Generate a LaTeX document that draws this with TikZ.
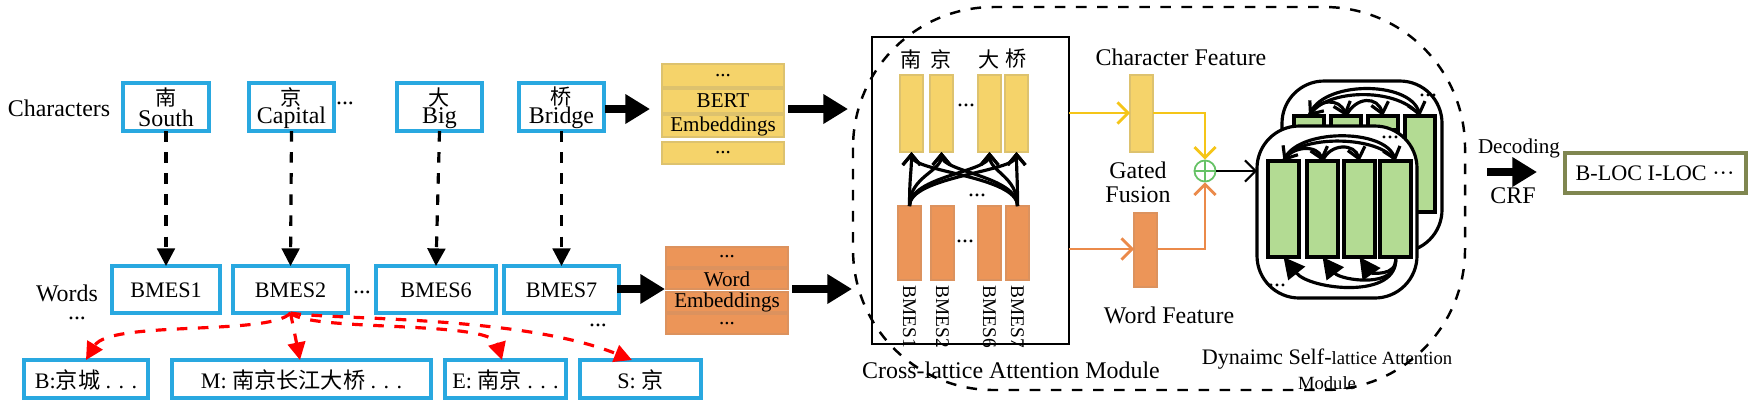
\documentclass[tikz,border=0pt]{standalone}
\usepackage{fontspec}
\setmainfont{Liberation Serif}
\newfontfamily\cjk{Noto Sans CJK SC}
\usetikzlibrary{arrows.meta,positioning,calc}
\newcommand\mydots{...}
\definecolor{cyanb}{HTML}{29A8E0}
\definecolor{yel}{HTML}{F5D36A}
\definecolor{ora}{HTML}{EC9558}
\definecolor{grn}{HTML}{B3DB93}
\definecolor{oli}{HTML}{7F8650}
\definecolor{yline}{HTML}{F5C518}
\definecolor{oline}{HTML}{EB8A4A}
\begin{document}
\begin{tikzpicture}[x=0.01cm,y=-0.01cm,
  txt/.style={font=\fontsize{6.8}{8}\selectfont,inner sep=0pt},
  stxt/.style={font=\fontsize{5.5}{6.5}\selectfont,inner sep=0pt},
  bx/.style={draw=cyanb,line width=1.1pt},
  ybar/.style={fill=yel,draw=yel!80!gray,line width=0.4pt},
  obar/.style={fill=ora,draw=ora!85!gray,line width=0.4pt},
  gbar/.style={fill=grn,draw=black,line width=0.9pt},
  dn/.style={dashed,line width=0.9pt,-{Triangle[length=5pt,width=5pt]}},
  rd/.style={red,dashed,line width=0.9pt,-{Triangle[length=5pt,width=5pt]}},
  big/.style={line width=2pt,-{Triangle[length=7pt,width=8pt]}},
  att/.style={line width=0.9pt,-{Straight Barb[length=3pt,width=5pt]}},
  batt/.style={line width=0.9pt,-{Triangle[length=6pt,width=6pt]}}]
\useasboundingbox (0,0) rectangle (1749,408);
% labels
\node[txt] (chl) at (59,108) {Characters};
\node[txt] (wl) at (67,293) {Words};
\node[txt] (wd) at (77,318) {...};
% character boxes
\foreach \n/\a/\b/\c/\e in {n1/123/209/南/South,n2/249/334/京/Capital,n3/397/482/大/Big,n4/519/604/桥/Bridge}{
  \draw[bx] (\a,83) rectangle (\b,131);
  \node[stxt,font=\fontsize{6}{7}\selectfont] at ({(\a+\b)/2},97) {\cjk\c};
  \node[txt] at ({(\a+\b)/2},118) {\e};
  \coordinate (\n b) at ({(\a+\b)/2},131);
}
\node[txt] (cd) at (345,103) {...};
% word boxes
\foreach \n/\a/\b/\t in {w1/112/220/BMES1,w2/233/348/BMES2,w3/376/496/BMES6,w4/504/619/BMES7}{
  \draw[bx] (\a,266) rectangle (\b,313);
  \node[txt,font=\fontsize{6.3}{7}\selectfont] (\n) at ({(\a+\b)/2},290) {\t};
  \coordinate (\n t) at ({(\a+\b)/2},266);
  \coordinate (\n b) at ({(\a+\b)/2},313);
}
\node[txt] (wdd) at (362,292) {...};
\node[txt] (wd2) at (598,325) {...};
\draw[dn] (n1b) -- (w1t);
\draw[dn] (n2b) -- (w2t);
\draw[dn] (n3b) -- (w3t);
\draw[dn] (n4b) -- (w4t);
% bottom boxes
\foreach \n/\a/\b/\t in {m1/24/148/{B:\cjk 京城\rmfamily\ . . .},m2/172/431/{M: \cjk 南京长江大桥\rmfamily\ . . .},m3/445/566/{E: \cjk 南京\rmfamily\ . . .},m4/580/701/{S: \cjk 京}}{
  \draw[bx] (\a,360) rectangle (\b,398);
  \node[txt,font=\fontsize{6.3}{7}\selectfont] (\n) at ({(\a+\b)/2},380) {\t};
}
\coordinate (t1) at (86,360); \coordinate (t2) at (300,360);
\coordinate (t3) at (502,360); \coordinate (t4) at (632,360);
\draw[rd] (w2b) .. controls (270,336) and (110,320) .. (t1);
\draw[rd] (w2b) -- (t2);
\draw[rd] (w2b) .. controls (310,332) and (490,320) .. (t3);
\draw[rd] (w2b) .. controls (330,320) and (520,315) .. (t4);
% BERT stack
\foreach \y/\h/\t in {64/87/\mydots,89/113/BERT,115/137/Embeddings,142/164/\mydots}{
  \draw[ybar] (662,\y) rectangle (784,\h);
  \node[stxt,font=\fontsize{6}{6}\selectfont] at (723,{(\y+\h)/2}) {\t};
}
\foreach \y/\h/\t in {247/267/\mydots,269/289/Word,292/312/Embeddings,314/334/\mydots}{
  \draw[obar] (666,\y) rectangle (788,\h);
  \node[stxt,font=\fontsize{6}{6}\selectfont] at (727,{(\y+\h)/2}) {\t};
}
\coordinate (bs) at (605,109); \coordinate (be) at (650,109);
\draw[big] (bs) -- (be);
\coordinate (ws) at (617,289); \coordinate (we) at (665,289);
\draw[big] (ws) -- (we);
\coordinate (ba) at (788,109); \coordinate (bb) at (848,109);
\draw[big] (ba) -- (bb);
\coordinate (wa) at (792,289); \coordinate (wb) at (852,289);
\draw[big] (wa) -- (wb);
% dashed module
\draw[dashed,line width=0.7pt,rounded corners=40] (853,7) rectangle (1465,390);
\node[txt] at (1011,370) {Cross-lattice Attention Module};
\node[txt,align=center,font=\fontsize{6.3}{7}\selectfont] at (1327,369) {Dynaimc Self-{\fontsize{5.3}{6}\selectfont lattice Attention}\\{\fontsize{5.3}{6}\selectfont Module}};
% inner box
\draw[line width=0.8pt] (872,37) rectangle (1069,344);
\foreach \n/\a/\c in {y1/900/南,y2/930/京,y3/978/大,y4/1005/桥}{
  \draw[ybar] (\a,75) rectangle ({\a+23},152);
  \coordinate (\n) at ({\a+11.5},152);
  \node[stxt,font=\fontsize{6}{7}\selectfont] at ({\a+11.5},59) {\cjk\c};
}
\foreach \n/\a/\c in {o1/898/BMES1,o2/931/BMES2,o3/978/BMES6,o4/1006/BMES7}{
  \draw[obar] (\a,206) rectangle ({\a+23},280);
  \coordinate (\n) at ({\a+11.5},206);
  \node[stxt,rotate=-90,anchor=west] at ({\a+11.5},285) {\c};
}
\node[txt] at (966,105) {...};
\node[txt] at (977,195) {...};
\node[txt] at (965,241) {...};
\foreach \s in {o1,o4}{
  \foreach \t in {y1,y2,y3,y4}{
    \draw[att] (\s) .. controls ($(\s)+(0,-30)$) and ($(\t)+(0,20)$) .. (\t);
  }
}
% features
\draw[ybar] (1130,75) rectangle (1153,152);
\draw[obar] (1134,213) rectangle (1157,287);
\node[txt] at (1181,57) {Character Feature};
\node[txt] at (1138,170) {Gated};
\node[txt] at (1138,195) {Fusion};
\node[txt] at (1169,315) {Word Feature};
\coordinate (ci) at (1069,113); \coordinate (cf) at (1130,113);
\coordinate (oi) at (1069,249); \coordinate (of) at (1134,249);
\draw[yline,line width=0.8pt,-{Straight Barb[length=3pt,width=6pt]}] (ci) -- (cf);
\draw[oline,line width=0.8pt,-{Straight Barb[length=3pt,width=6pt]}] (oi) -- (of);
\node[draw=green!60!black!60,circle,minimum size=6pt,inner sep=0pt,line width=0.5pt] (gf) at (1205,171) {};
\draw[green!60!black!60,line width=0.5pt] (gf.north) -- (gf.south) (gf.west) -- (gf.east);
\draw[yline,line width=0.8pt,-{Straight Barb[length=3pt,width=6pt]}] (1153,113) -| (gf.north);
\draw[oline,line width=0.8pt,-{Straight Barb[length=3pt,width=6pt]}] (1157,249) -| (gf.south);
% green boxes
\draw[line width=0.9pt,rounded corners=12,fill=white] (1282,81) rectangle (1442,252);
\foreach \a in {1294,1331,1368}{ \draw[gbar] (\a,116) rectangle ({\a+30},130); }
\draw[gbar] (1405,116) rectangle (1435,212);
\node[txt] at (1428,95) {...};
\draw[att] (1309,116) .. controls (1320,80) and (1410,80) .. (1420,116);
\draw[att] (1420,116) .. controls (1400,88) and (1330,88) .. (1309,116);
\draw[att] (1309,116) .. controls (1318,98) and (1340,98) .. (1346,116);
\draw[att] (1346,116) .. controls (1356,96) and (1378,96) .. (1383,116);
\draw[line width=0.9pt,rounded corners=12,fill=white] (1257,126) rectangle (1417,298);
\foreach \n/\a in {g1/1268,g2/1307,g3/1344,g4/1380}{
  \draw[gbar] (\a,161) rectangle ({\a+31},257);
  \coordinate (\n t) at ({\a+15.5},161);
  \coordinate (\n b) at ({\a+15.5},257);
}
\node[txt] at (1390,137) {...};
\node[txt] at (1277,285) {...};
\draw[att] (g1t) .. controls (1295,128) and (1385,128) .. (g4t);
\draw[att] (g4t) .. controls (1380,135) and (1300,135) .. (g1t);
\draw[att] (g1t) .. controls (1292,145) and (1318,145) .. (g2t);
\draw[att] (g2t) .. controls (1330,143) and (1355,143) .. (g3t);
\draw[batt] (g4b) .. controls (1400,300) and (1310,290) .. (g1b);
\draw[batt] (g4b) .. controls (1400,290) and (1340,280) .. (g2b);
\draw[batt] (g4b) .. controls (1398,278) and (1370,272) .. (g3b);
\coordinate (gin) at (1257,171);
\draw[line width=0.6pt,-{Straight Barb[length=3pt,width=6pt]}] (gf.east) -- (gin);
% output
\node[txt,font=\fontsize{6}{7}\selectfont] at (1519,148) {Decoding};
\node[txt] at (1513,196) {CRF};
\draw[oli,line width=1.2pt] (1565,153) rectangle (1746,193);
\node[txt,font=\fontsize{6.3}{7}\selectfont] (out) at (1655,173) {B-LOC I-LOC ···};
\coordinate (da) at (1487,172); \coordinate (db) at (1537,172);
\draw[big] (da) -- (db);
\end{tikzpicture}
\end{document}
